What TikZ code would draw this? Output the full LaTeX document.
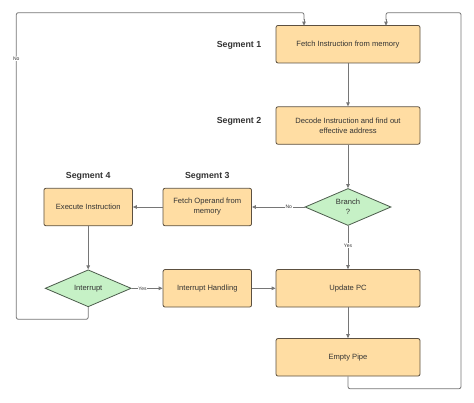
\documentclass[tikz,border=0pt]{standalone}
\usepackage{fontspec}
\setmainfont{Liberation Sans}
\usetikzlibrary{shapes.geometric,arrows.meta}
\definecolor{boxfill}{HTML}{FFDDA3}
\definecolor{boxline}{HTML}{5C5040}
\definecolor{decfill}{HTML}{C6F1C6}
\definecolor{decline}{HTML}{4C5C4C}
\definecolor{conn}{HTML}{767676}
\definecolor{txt}{HTML}{333333}
\tikzset{
  procbox/.style={draw=boxline, fill=boxfill, line width=0.8pt, rounded corners=2pt,
    minimum width=#1, minimum height=37.5pt, inner sep=0pt, align=center,
    font=\fontsize{7.6pt}{10pt}\selectfont, text=txt},
  procbox/.default=144pt,
  decision/.style={diamond, aspect=2.35, draw=decline, fill=decfill, line width=0.8pt,
    minimum width=#1, minimum height=37pt, inner sep=0pt, align=center,
    font=\fontsize{7.6pt}{10pt}\selectfont, text=txt},
  seglabel/.style={font=\bfseries\fontsize{8.8pt}{10pt}\selectfont, text=txt},
  conn/.style={draw=conn, line width=0.8pt, -{Triangle[length=4pt,width=3.5pt]}},
  plainconn/.style={draw=conn, line width=0.8pt, rounded corners=2pt},
  edgelabel/.style={font=\fontsize{5pt}{6pt}\selectfont, text=txt, fill=white, inner sep=0.5pt}
}
\begin{document}
\begin{tikzpicture}[x=1pt,y=-1pt]
\useasboundingbox (0,0) rectangle (474,402);
\fill[white] (0,0) rectangle (474,402);

% boxes
\node[procbox] (fetch) at (348,44.2) {Fetch Instruction from memory};
\node[procbox] (decode) at (348,125.5) {Decode Instruction and find out\\effective address};
\node[decision, minimum width=86pt] (branch) at (348,207) {Branch\\?};
\node[procbox=88.5pt] (fop) at (207.3,207) {Fetch Operand from\\memory};
\node[procbox=88.5pt] (exec) at (88.2,207) {Execute Instruction};
\node[decision, minimum width=86pt] (intr) at (88.2,288.3) {Interrupt};
\node[procbox=88.5pt] (ih) at (207.3,288.3) {Interrupt Handling};
\node[procbox] (upc) at (348,288.3) {Update PC};
\node[procbox] (pipe) at (348,357.3) {Empty Pipe};

% segment labels
\node[seglabel] (s1) at (239,45.7) {Segment 1};
\node[seglabel] (s2) at (239,121) {Segment 2};
\node[seglabel] (s3) at (207.3,176.7) {Segment 3};
\node[seglabel] (s4) at (88.2,176.7) {Segment 4};

% coordinates for loops
\coordinate (fetchL) at (304,25.7);
\coordinate (fetchR) at (386,25.7);

% connectors
\draw[conn] (fetch) -- (decode);
\draw[conn] (decode) -- (branch);
\draw[conn] (branch) -- node[edgelabel,pos=0.3] {No} (fop);
\draw[conn] (fop) -- (exec);
\draw[conn] (exec) -- (intr);
\draw[conn] (intr) -- node[edgelabel,pos=0.35] {Yes} (ih);
\draw[conn] (ih) -- (upc);
\draw[conn] (branch) -- node[edgelabel,pos=0.45] {Yes} (upc);
\draw[conn] (upc) -- (pipe);

% loop from interrupt (No) back to fetch
\draw[plainconn] (intr.south) -- (88.2,319.3) -- (16.3,319.3) -- node[edgelabel,pos=0.85] {No} (16.3,12.7) -- (304,12.7) -- (304,20);
\draw[conn] (304,19) -- (fetchL);
% loop from empty pipe back to fetch
\draw[plainconn] (pipe.south) -- (348,388.7) -- (461,388.7) -- (461,12.7) -- (386,12.7) -- (386,20);
\draw[conn] (386,19) -- (fetchR);
\end{tikzpicture}
\end{document}
